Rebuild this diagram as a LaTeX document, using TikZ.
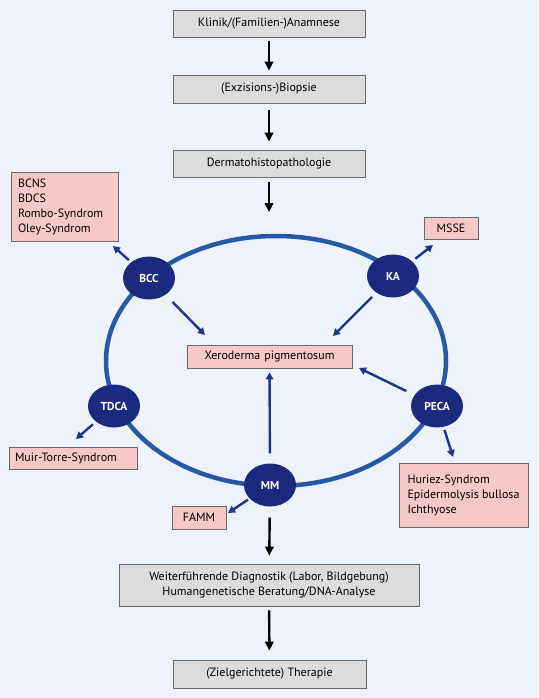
\documentclass[tikz,border=0pt]{standalone}
\usepackage{fontspec}
\setmainfont{PT Sans}
\usetikzlibrary{arrows.meta,shapes.geometric}
\definecolor{hgblau}{RGB}{238,243,251}
\definecolor{ringblau}{RGB}{38,88,164}
\definecolor{knotblau}{RGB}{26,42,126}
\definecolor{pfeilblau}{RGB}{28,54,140}
\definecolor{rosa}{RGB}{246,200,200}
\definecolor{hellgrau}{RGB}{220,220,220}
\definecolor{rand}{RGB}{105,105,105}
\begin{document}
\begin{tikzpicture}[x=1pt,y=-1pt,
		schritt/.style={draw=rand,fill=hellgrau,line width=0.8pt,inner sep=0pt,align=center,
			font=\fontsize{12}{15.5}\selectfont},
		befund/.style={draw=rand,fill=rosa,line width=0.8pt,inner ysep=0pt,align=left,
			font=\fontsize{12}{15}\selectfont},
		tumor/.style={ellipse,fill=knotblau,text=white,minimum width=52pt,minimum height=43pt,
			inner sep=0pt,font=\fontsize{11.5}{12}\selectfont\bfseries},
		schwarzpfeil/.style={line width=2.4pt,-{Triangle[length=9pt,width=8.5pt]}},
		blaupfeil/.style={pfeilblau,line width=2.4pt,-{Triangle[length=7pt,width=7.5pt]}}]
		\def\mx{276} % Mittelpunkt Ring
		\def\my{361}
		\def\rx{170} % Halbachsen Ring
		\def\ry{125}
		\fill[hgblau] (0,0) rectangle (538,698);
		\useasboundingbox (0,0) rectangle (538,698);
		% Ablauf oben
		\node[schritt,minimum width=192pt,minimum height=27pt] (klinik) at (269,23.5) {Klinik/(Familien-)Anamnese};
		\node[schritt,minimum width=192pt,minimum height=28pt] (biopsie) at (269,89) {(Exzisions-)Biopsie};
		\node[schritt,minimum width=192pt,minimum height=27pt] (histo) at (269,163.5) {Dermatohistopathologie};
		\coordinate (ringoben) at (269,212);
		\draw[schwarzpfeil,shorten <=4pt,shorten >=4pt] (klinik) -- (biopsie);
		\draw[schwarzpfeil,shorten <=7pt,shorten >=8pt] (biopsie) -- (histo);
		\draw[schwarzpfeil,shorten <=5pt] (histo) -- (ringoben);
		% Ring
		\draw[ringblau,line width=4.5pt] (\mx,\my) ellipse [x radius=\rx pt, y radius=\ry pt];
		\node[befund,text width=149pt,inner xsep=8pt,minimum height=23pt,align=center] (xp) at (269.5,356.5) {Xeroderma pigmentosum};
		\node[tumor] (bcc) at (149,278) {BCC};
		\node[tumor] (ka) at (393,276) {KA};
		\node[tumor] (tdca) at (114,406) {TDCA};
		\node[tumor] (peca) at (437,406) {PECA};
		\node[tumor] (mm) at (270,485) {MM};
		% Befunde
		\node[befund,text width=93pt,inner xsep=7pt,minimum height=69pt] (bcns) at (64.5,206.5) {BCNS\\BDCS\\Rombo-Syndrom\\Oley-Syndrom};
		\node[befund,minimum width=54pt,minimum height=22pt,inner xsep=0pt,align=center] (msse) at (451,228) {MSSE};
		\node[befund,text width=116pt,inner xsep=6pt,minimum height=22pt] (muir) at (73,458) {Muir-Torre-Syndrom};
		\node[befund,minimum width=54pt,minimum height=23pt,inner xsep=0pt,align=center] (famm) at (199,517.5) {FAMM};
		\node[befund,minimum width=129pt,inner xsep=0pt,minimum height=64pt] (huriez) at (463.5,495) {Huriez-Syndrom\\Epidermolysis bullosa\\Ichthyose};
		% Pfeilspitzen
		\coordinate (zbcns) at (113,246);
		\coordinate (zxp1) at (205,335);
		\coordinate (zmsse) at (433,245);
		\coordinate (zxp2) at (333,336);
		\coordinate (zxp3) at (359,368);
		\coordinate (zhuriez) at (453,457);
		\coordinate (zmuir) at (76,439);
		\coordinate (zfamm) at (228,513);
		\draw[blaupfeil,shorten <=3pt] (bcc) -- (zbcns);
		\draw[blaupfeil,shorten <=10pt] (bcc) -- (zxp1);
		\draw[blaupfeil,shorten <=4pt] (ka) -- (zmsse);
		\draw[blaupfeil,shorten <=6pt] (ka) -- (zxp2);
		\draw[blaupfeil,shorten <=9pt] (peca) -- (zxp3);
		\draw[blaupfeil,shorten <=3pt] (peca) -- (zhuriez);
		\draw[blaupfeil,shorten <=4pt] (tdca) -- (zmuir);
		\draw[blaupfeil,shorten <=2pt] (mm) -- (zfamm);
		\draw[blaupfeil,shorten <=10pt,shorten >=4pt] (mm) -- (xp);
		% Ablauf unten
		\node[schritt,minimum width=300pt,minimum height=42pt] (weiter) at (269,585) {Weiterführende Diagnostik (Labor, Bildgebung)\\Humangenetische Beratung/DNA-Analyse};
		\node[schritt,minimum width=193pt,minimum height=28pt] (therapie) at (269.5,674) {(Zielgerichtete) Therapie};
		\draw[schwarzpfeil,shorten <=11pt,shorten >=8pt] (mm) -- (weiter);
		\draw[schwarzpfeil,shorten <=4pt,shorten >=9pt] (weiter) -- (therapie);
\end{tikzpicture}
\end{document}
